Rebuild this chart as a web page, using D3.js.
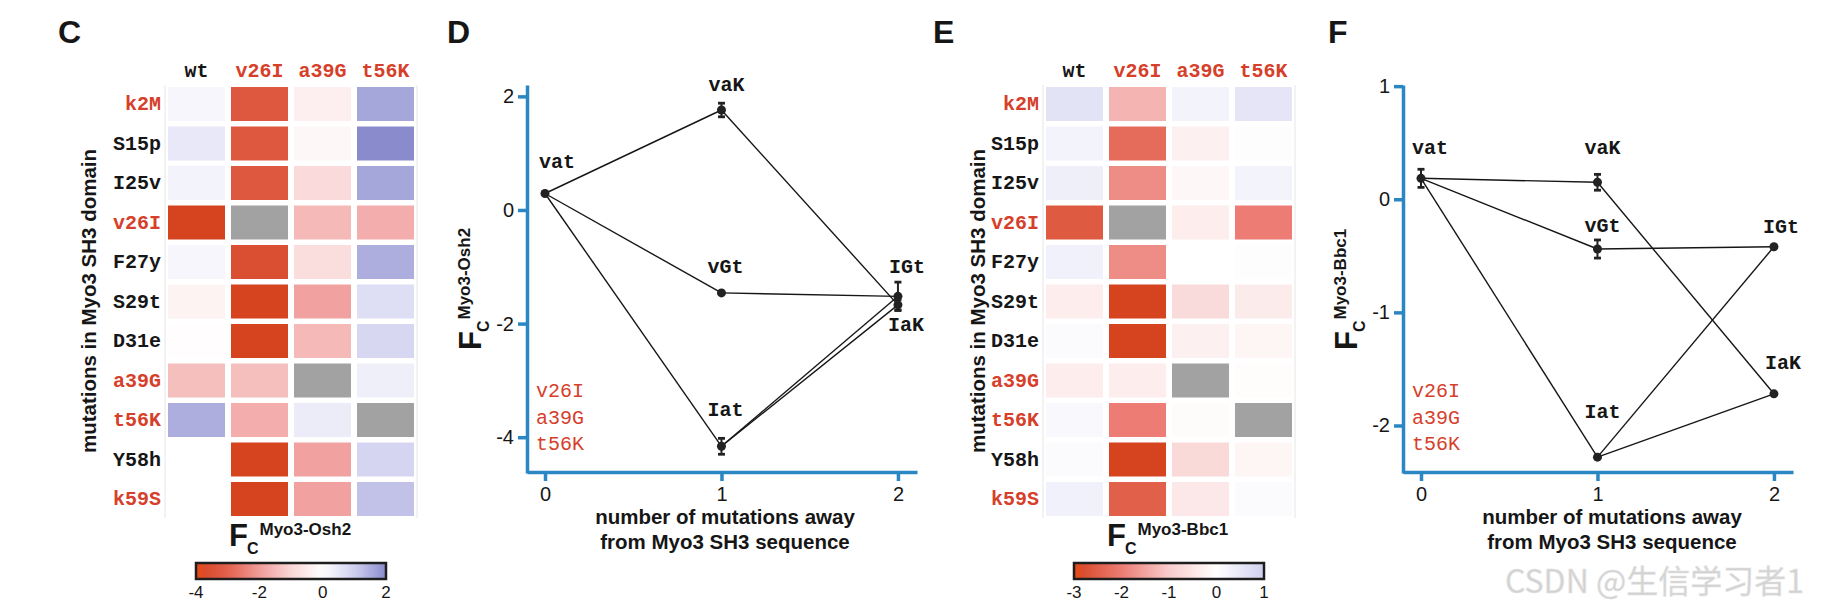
<!DOCTYPE html>
<html>
<head>
<meta charset="utf-8">
<script src="https://cdn.jsdelivr.net/npm/d3@7"></script>
<style>
  body { margin: 0; background: #fff; }
</style>
</head>
<body>
<div id="container"></div>
<script>
// ---- data ----
const mutations = ["k2M", "S15p", "I25v", "v26I", "F27y", "S29t", "D31e", "a39G", "t56K", "Y58h", "k59S"];
const backgrounds = ["wt", "v26I", "a39G", "t56K"];
const highlighted = ["k2M", "v26I", "a39G", "t56K", "k59S"];

// rows follow `mutations`, columns follow `backgrounds`; null = same site (grey)
const osh2Heat = [
  [0.2, -3.3, -0.4, 1.6],
  [0.5, -3.3, -0.2, 2.0],
  [0.25, -3.3, -0.9, 1.6],
  [-4.0, null, -1.5, -1.7],
  [0.2, -3.6, -0.8, 1.5],
  [-0.3, -4.0, -1.9, 0.7],
  [-0.05, -4.0, -1.5, 0.85],
  [-1.4, -1.4, null, 0.35],
  [1.5, -1.7, 0.4, null],
  [0, -4.0, -1.9, 0.9],
  [0, -4.0, -1.9, 1.2]
];
const bbc1Heat = [
  [0.6, -1.3, 0.25, 0.55],
  [0.25, -2.3, -0.3, 0.05],
  [0.35, -1.8, -0.15, 0.25],
  [-2.6, null, -0.35, -2.0],
  [0.3, -1.8, 0, 0.05],
  [-0.35, -3.0, -0.7, -0.4],
  [0.08, -3.0, -0.3, -0.2],
  [-0.35, -0.35, null, -0.05],
  [0.12, -2.0, -0.08, null],
  [0.08, -3.0, -0.75, -0.2],
  [0.3, -2.5, -0.45, 0.08]
];
const osh2BarTicks = [-4, -2, 0, 2];
const bbc1BarTicks = [-3, -2, -1, 0, 1];

const genotypes = ["vat", "vaK", "vGt", "Iat", "IGt", "IaK"];
const distance = [0, 1, 1, 1, 2, 2];
const osh2Fitness = [0.29, 1.76, -1.46, -4.16, -1.52, -1.67];
const osh2Error = [0, 0.12, 0, 0.14, 0.25, 0.09];
const bbc1Fitness = [0.185, 0.15, -0.44, -2.28, -0.42, -1.72];
const bbc1Error = [0.08, 0.07, 0.08, 0, 0, 0];
const steps = [["vat", "vaK"], ["vat", "vGt"], ["vat", "Iat"], ["vaK", "IaK"], ["vGt", "IGt"], ["Iat", "IGt"], ["Iat", "IaK"]];
const distanceTicks = [0, 1, 2];
const osh2Ticks = [-4, -2, 0, 2];
const bbc1Ticks = [-2, -1, 0, 1];
const insetMutations = ["v26I", "a39G", "t56K"];

// ---- styling ----
const sans = "'Liberation Sans', Arial, Helvetica, sans-serif";
const mono = "'Liberation Mono', 'Courier New', monospace";
const red = "#d6402b";
const ink = "#161616";
const blue = "#2b87c3";

const svg = d3.select("#container")
  .append("svg")
  .attr("width", 1840)
  .attr("height", 614)
  .style("background", "#fff");

const defs = svg.append("defs");

function panelLetter(x, letter) {
  svg.append("text")
    .attr("x", x).attr("y", 43)
    .attr("font-family", sans).attr("font-weight", "bold")
    .attr("font-size", 32).attr("fill", ink)
    .text(letter);
}

function fcLabel(g, name) {
  const t = g.append("text")
    .attr("font-family", sans).attr("font-weight", "bold").attr("fill", ink);
  t.append("tspan").attr("font-size", 31).text("F");
  t.append("tspan").attr("font-size", 16).attr("dy", 8).attr("dx", -1).text("C");
  t.append("tspan").attr("font-size", 17).attr("dy", -19).attr("dx", 1).text(name);
}

function heatmap(opt) {
  const x = d3.scaleBand().domain(backgrounds)
    .range([opt.x, opt.x + 246]).paddingInner(6 / 63).paddingOuter(0);
  const y = d3.scaleBand().domain(mutations)
    .range([87, 516]).paddingInner(5.5 / 39.5).paddingOuter(0);

  const g = svg.append("g");

  // faint frame lines
  [opt.x - 3, opt.x + 249].forEach(lx => {
    g.append("line")
      .attr("x1", lx).attr("x2", lx).attr("y1", 85).attr("y2", 518)
      .attr("stroke", "#e6e6e6").attr("stroke-width", 1);
  });

  const cells = [];
  mutations.forEach((m, i) => backgrounds.forEach((b, j) => {
    cells.push({ m, b, v: opt.values[i][j] });
  }));

  g.selectAll("rect.cell")
    .data(cells)
    .enter()
    .append("rect")
    .attr("class", "cell")
    .attr("x", d => x(d.b))
    .attr("y", d => y(d.m))
    .attr("width", x.bandwidth())
    .attr("height", y.bandwidth())
    .attr("fill", d => d.v === null ? "#a2a2a2" : opt.color(d.v));

  g.selectAll("text.col")
    .data(backgrounds)
    .enter()
    .append("text")
    .attr("class", "col")
    .attr("x", d => x(d) + x.bandwidth() / 2)
    .attr("y", 77)
    .attr("text-anchor", "middle")
    .attr("font-family", mono).attr("font-weight", "bold").attr("font-size", 20)
    .attr("fill", d => d === "wt" ? ink : red)
    .text(d => d);

  g.selectAll("text.row")
    .data(mutations)
    .enter()
    .append("text")
    .attr("class", "row")
    .attr("x", opt.x - 7)
    .attr("y", d => y(d) + y.bandwidth() / 2 + 6)
    .attr("text-anchor", "end")
    .attr("font-family", mono).attr("font-weight", "bold").attr("font-size", 20)
    .attr("fill", d => highlighted.includes(d) ? red : ink)
    .text(d => d);

  g.append("text")
    .attr("transform", `translate(${opt.titleX},301) rotate(-90)`)
    .attr("text-anchor", "middle")
    .attr("dominant-baseline", "central")
    .attr("font-family", sans).attr("font-weight", "bold").attr("font-size", 20.5)
    .attr("fill", ink)
    .text("mutations in Myo3 SH3 domain");

  fcLabel(g.append("g").attr("transform", `translate(${opt.x + 61},546)`), opt.name);

  // colour bar
  const dom = opt.color.domain();
  const bx = d3.scaleLinear().domain([dom[0], dom[dom.length - 1]]).range([opt.x + 28, opt.x + 218]);
  const gid = "grad-" + opt.name;
  const grad = defs.append("linearGradient").attr("id", gid)
    .attr("x1", "0%").attr("x2", "100%").attr("y1", "0%").attr("y2", "0%");
  d3.range(0, 1.0001, 0.05).forEach(t => {
    grad.append("stop")
      .attr("offset", (t * 100) + "%")
      .attr("stop-color", t === 0 ? "#ea4a12" : opt.color(bx.invert(bx.range()[0] + t * 190)));
  });
  g.append("rect")
    .attr("x", bx.range()[0]).attr("y", 563)
    .attr("width", 190).attr("height", 16)
    .attr("fill", `url(#${gid})`)
    .attr("stroke", "#1e1e1e").attr("stroke-width", 2.5);

  g.selectAll("text.bar")
    .data(opt.ticks)
    .enter()
    .append("text")
    .attr("class", "bar")
    .attr("x", d => bx(d))
    .attr("y", 598)
    .attr("text-anchor", "middle")
    .attr("font-family", sans).attr("font-size", 17).attr("fill", ink)
    .text(d => String(d));
}

function landscape(opt) {
  const x = d3.scaleLinear().domain([-0.102, 2.108]).range([opt.x, opt.x + 390]);
  const y = d3.scaleLinear().domain(opt.yDomain).range([473, 85]);
  const g = svg.append("g");

  const yAxis = g.append("g")
    .attr("transform", `translate(${opt.x},0)`)
    .call(d3.axisLeft(y).tickValues(opt.ticks).tickSize(9).tickSizeOuter(0).tickPadding(4)
      .tickFormat(d => String(d)));
  const xAxis = g.append("g")
    .attr("transform", `translate(0,472)`)
    .call(d3.axisBottom(x).tickValues(distanceTicks).tickSize(9).tickSizeOuter(0).tickPadding(6)
      .tickFormat(d => String(d)));

  [yAxis, xAxis].forEach(a => {
    a.select(".domain").attr("stroke", blue).attr("stroke-width", 3.5);
    a.selectAll(".tick line").attr("stroke", blue).attr("stroke-width", 3.5);
    a.selectAll(".tick text")
      .attr("font-family", sans).attr("font-size", 20).attr("fill", ink);
  });

  const pos = {};
  genotypes.forEach((gt, i) => {
    pos[gt] = { d: distance[i], f: opt.fitness[i], e: opt.error[i] };
  });

  g.selectAll("line.step")
    .data(steps)
    .enter()
    .append("line")
    .attr("class", "step")
    .attr("x1", d => x(pos[d[0]].d)).attr("y1", d => y(pos[d[0]].f))
    .attr("x2", d => x(pos[d[1]].d)).attr("y2", d => y(pos[d[1]].f))
    .attr("stroke", ink).attr("stroke-width", 1.4);

  const pts = genotypes.map(gt => ({ gt, ...pos[gt] }));
  const eb = g.selectAll("g.err").data(pts.filter(p => p.e > 0)).enter().append("g");
  eb.append("line")
    .attr("x1", d => x(d.d)).attr("x2", d => x(d.d))
    .attr("y1", d => y(d.f - d.e)).attr("y2", d => y(d.f + d.e))
    .attr("stroke", "#222").attr("stroke-width", 2);
  [-1, 1].forEach(s => {
    eb.append("line")
      .attr("x1", d => x(d.d) - 3.5).attr("x2", d => x(d.d) + 3.5)
      .attr("y1", d => y(d.f + s * d.e)).attr("y2", d => y(d.f + s * d.e))
      .attr("stroke", "#222").attr("stroke-width", 2.8);
  });

  g.selectAll("circle.pt")
    .data(pts)
    .enter()
    .append("circle")
    .attr("class", "pt")
    .attr("cx", d => x(d.d)).attr("cy", d => y(d.f))
    .attr("r", 4.5)
    .attr("fill", "#222");

  g.selectAll("text.gt")
    .data(pts)
    .enter()
    .append("text")
    .attr("class", "gt")
    .attr("x", d => x(d.d) + opt.labelOffset[d.gt][0])
    .attr("y", d => y(d.f) + opt.labelOffset[d.gt][1])
    .attr("text-anchor", "middle")
    .attr("font-family", mono).attr("font-weight", "bold").attr("font-size", 20)
    .attr("fill", ink)
    .text(d => d.gt);

  g.selectAll("text.inset")
    .data(insetMutations)
    .enter()
    .append("text")
    .attr("class", "inset")
    .attr("x", opt.x + 9)
    .attr("y", (d, i) => 397 + i * 26.5)
    .attr("font-family", mono).attr("font-size", 20)
    .attr("fill", red)
    .text(d => d);

  fcLabel(g.append("g").attr("transform", `translate(${opt.x - 46},350) rotate(-90)`), opt.name);

  const tt = g.append("text")
    .attr("text-anchor", "middle")
    .attr("font-family", sans).attr("font-weight", "bold").attr("font-size", 20.5)
    .attr("fill", ink);
  tt.append("tspan").attr("x", opt.titleX).attr("y", 524).text("number of mutations away");
  tt.append("tspan").attr("x", opt.titleX).attr("y", 549).text("from Myo3 SH3 sequence");
}

panelLetter(58, "C");
panelLetter(447, "D");
panelLetter(933, "E");
panelLetter(1328, "F");

heatmap({
  x: 168, titleX: 88, name: "Myo3-Osh2", values: osh2Heat, ticks: osh2BarTicks,
  color: d3.scaleLinear()
    .domain([-4, -3, -2, -1, 0, 1, 2])
    .range(["#d5431f", "#e2604c", "#f09c9a", "#f9d6d6", "#ffffff", "#d0d0f0", "#898bcc"])
});

heatmap({
  x: 1046, titleX: 977, name: "Myo3-Bbc1", values: bbc1Heat, ticks: bbc1BarTicks,
  color: d3.scaleLinear()
    .domain([-3, -2, -1, 0, 1])
    .range(["#d5431f", "#ec7c74", "#f8cccc", "#ffffff", "#d0d0f0"])
});

landscape({
  x: 527, titleX: 725, name: "Myo3-Osh2",
  yDomain: [-4.63, 2.2], ticks: osh2Ticks,
  fitness: osh2Fitness, error: osh2Error,
  labelOffset: { vat: [12, -26], vaK: [5, -19], vGt: [4, -20], IGt: [9, -23], Iat: [4, -30], IaK: [8, 26] }
});

landscape({
  x: 1403, titleX: 1612, name: "Myo3-Bbc1",
  yDomain: [-2.42, 1.01], ticks: bbc1Ticks,
  fitness: bbc1Fitness, error: bbc1Error,
  labelOffset: { vat: [9, -24], vaK: [5, -28], vGt: [5, -17], IGt: [7, -14], Iat: [5, -39], IaK: [9, -25] }
});

svg.append("text")
  .attr("x", 1505).attr("y", 593)
  .attr("font-family", "'Noto Sans CJK SC', 'Noto Sans', sans-serif")
  .attr("font-size", 32)
  .attr("fill", "#d2d2d2")
  .attr("stroke", "#e4e4e4").attr("stroke-width", 0.6)
  .text("CSDN @生信学习者1");
</script>
</body>
</html>
